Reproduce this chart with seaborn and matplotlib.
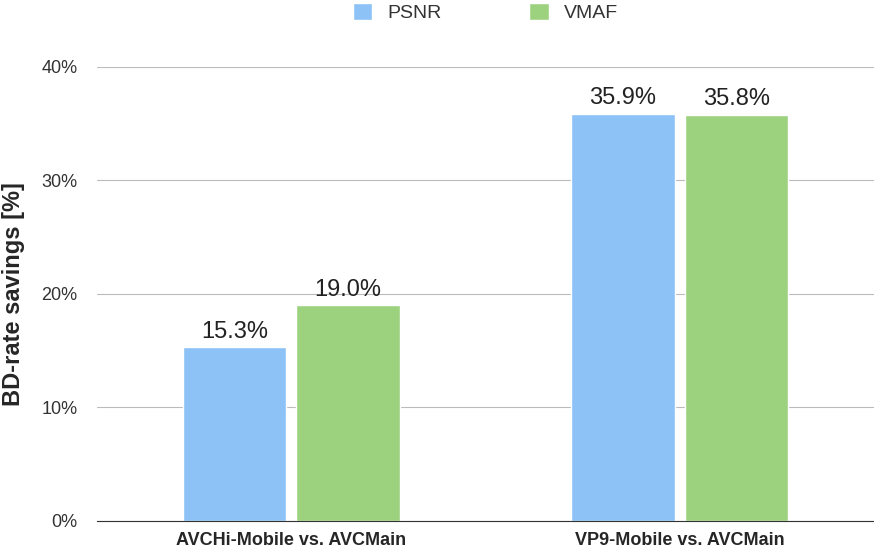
import pandas as pd
import matplotlib.pyplot as plt
import seaborn as sns

categories = ['AVCHi-Mobile vs. AVCMain', 'VP9-Mobile vs. AVCMain']
metrics = ['PSNR', 'VMAF']
psnr = [15.3, 35.9]
vmaf = [19.0, 35.8]

df = pd.DataFrame({
    'cat': categories * 2,
    'metric': ['PSNR'] * 2 + ['VMAF'] * 2,
    'value': psnr + vmaf,
})

sns.set_style('white')
plt.rcParams['font.family'] = ['Liberation Sans', 'DejaVu Sans']

fig = plt.figure(figsize=(8.74, 5.54), dpi=100)
ax = fig.add_axes([0.111, 0.0596, 0.889, 0.8195])
colors = ['#8cc2f5', '#9cd17e']
sns.barplot(data=df, x='cat', y='value', hue='metric', palette=colors,
            width=0.584, gap=0.09, saturation=1, ax=ax)

for cont in ax.containers:
    ax.bar_label(cont, labels=[f'{v:.1f}%' for v in cont.datavalues],
                 padding=3, fontsize=17, color='#222222')

ax.set_xlim(-0.5, 1.5)
ax.set_ylim(0, 40)
ax.set_yticks([0, 10, 20, 30, 40])
ax.set_yticklabels([f'{t}%' for t in [0, 10, 20, 30, 40]], fontsize=13, color='#333333')
ax.yaxis.grid(True, color='#bbbbbb', linewidth=0.8)
ax.set_axisbelow(True)
for s in ['top', 'right', 'left']:
    ax.spines[s].set_visible(False)
ax.spines['bottom'].set_color('#333333')
ax.tick_params(axis='x', length=0, pad=8)
ax.tick_params(axis='y', length=0, pad=14)
for lbl in ax.get_xticklabels():
    lbl.set_fontweight('bold')
    lbl.set_fontsize(13)
ax.set_xlabel('')
ax.set_ylabel('BD-rate savings [%]', fontsize=17, fontweight='bold', labelpad=12)

ax.legend(loc='lower center', bbox_to_anchor=(0.5, 1.06), ncol=2, frameon=False,
          fontsize=14, handlelength=1.0, handleheight=1.0, columnspacing=4.5,
          labelcolor='#333333')

fig.savefig('out.png', dpi=100)
